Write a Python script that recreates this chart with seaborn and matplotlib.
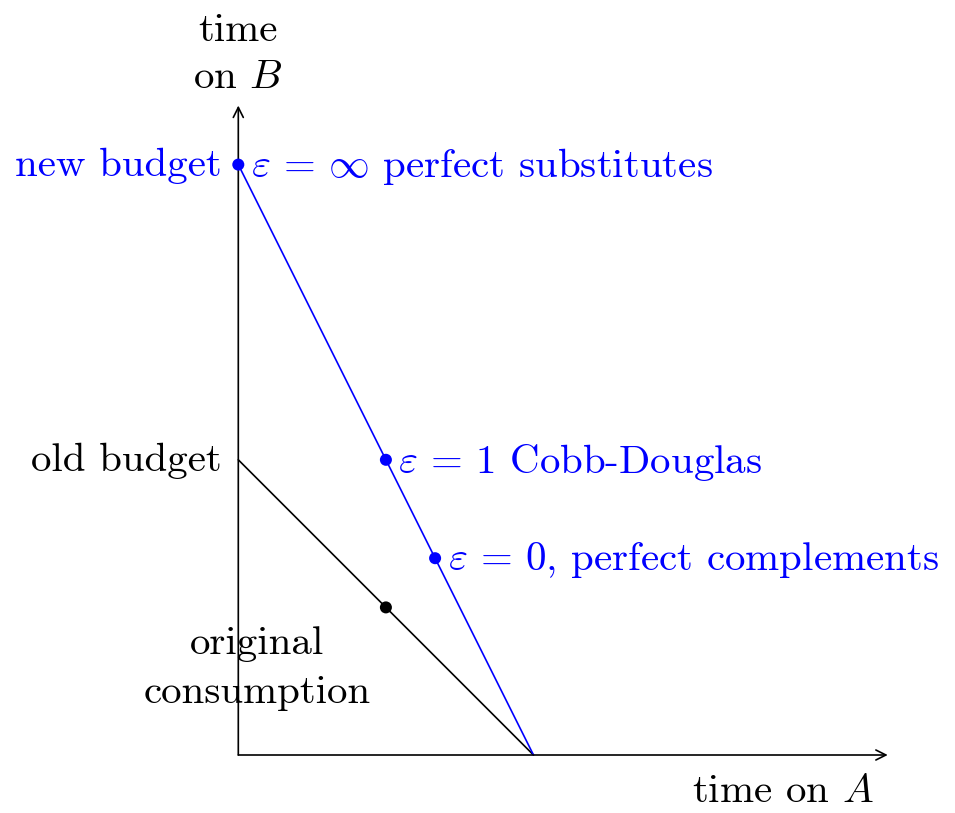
import matplotlib
matplotlib.use("Agg")
import matplotlib.pyplot as plt
import seaborn as sns
import pandas as pd

# ---- data ----
budget_x = [0, 2]
old_budget_y = [2, 0]
new_budget_y = [4, 0]
blue_pts_x = [0, 1, 4 / 3]
blue_pts_y = [4, 2, 4 / 3]
blue_labels = [r"$\varepsilon\,=\,\infty$ perfect substitutes",
               r"$\varepsilon\,=\,1$ Cobb-Douglas",
               r"$\varepsilon\,=\,0$, perfect complements"]
orig_x = [1]
orig_y = [1]
axis_max = 4.4

sns.set_theme(style="white")
plt.rcParams["font.family"] = ["serif"]
plt.rcParams["font.serif"] = ["cmr10"]
plt.rcParams["mathtext.fontset"] = "cm"
plt.rcParams["axes.formatter.use_mathtext"] = True

BLUE = (0, 0, 1)
FS = 29.5
LW = 1.2

fig = plt.figure(figsize=(9.55, 8.13), dpi=100)
ax = fig.add_axes([0, 0, 1, 1])
scale = 147.6
ox, oy = 238.3, 755.0

# axes arrows
arrow = dict(arrowstyle="->", lw=LW, color="black", mutation_scale=18, shrinkA=0, shrinkB=0)
ax.annotate("", xy=(axis_max, 0), xytext=(0, 0), arrowprops=arrow)
ax.annotate("", xy=(0, axis_max), xytext=(0, 0), arrowprops=arrow)

df_old = pd.DataFrame({"x": budget_x, "y": old_budget_y})
df_new = pd.DataFrame({"x": budget_x, "y": new_budget_y})
sns.lineplot(data=df_old, x="x", y="y", ax=ax, color="black", lw=LW, sort=False)
sns.lineplot(data=df_new, x="x", y="y", ax=ax, color=BLUE, lw=LW, sort=False)

df_b = pd.DataFrame({"x": blue_pts_x, "y": blue_pts_y})
sns.scatterplot(data=df_b, x="x", y="y", ax=ax, color=BLUE, s=75, edgecolor="none", zorder=5)
df_o = pd.DataFrame({"x": orig_x, "y": orig_y})
sns.scatterplot(data=df_o, x="x", y="y", ax=ax, color="black", s=75, edgecolor="none", zorder=5)
ax.set_xlabel("")
ax.set_ylabel("")
ax.set_xlim(-ox / scale, (955 - ox) / scale)
ax.set_ylim(-(813 - oy) / scale, oy / scale)
ax.axis("off")

# labels on blue points
for x, y, lab in zip(blue_pts_x, blue_pts_y, blue_labels):
    ax.annotate(lab, xy=(x, y), xytext=(9, 2), textcoords="offset points",
                ha="left", va="center_baseline", fontsize=FS, color=BLUE)

ax.annotate("new budget", xy=(0, new_budget_y[0]), xytext=(-12, 2), textcoords="offset points",
            ha="right", va="center_baseline", fontsize=FS, color=BLUE)
ax.annotate("old budget", xy=(0, old_budget_y[0]), xytext=(-12, 2), textcoords="offset points",
            ha="right", va="center_baseline", fontsize=FS, color="black")

ax.annotate("original\nconsumption", xy=(orig_x[0], orig_y[0]), xytext=(-93, -44),
            textcoords="offset points", ha="center", va="center", fontsize=FS,
            color="black", linespacing=1.45)

ax.annotate("time\non $B$", xy=(0, axis_max), xytext=(0, 7), textcoords="offset points",
            ha="center", va="bottom", fontsize=FS, color="black", linespacing=1.4)
ax.annotate("time on $A$", xy=(axis_max, 0), xytext=(-10, -14), textcoords="offset points",
            ha="right", va="top", fontsize=FS, color="black")

fig.savefig("out.png", dpi=100)
